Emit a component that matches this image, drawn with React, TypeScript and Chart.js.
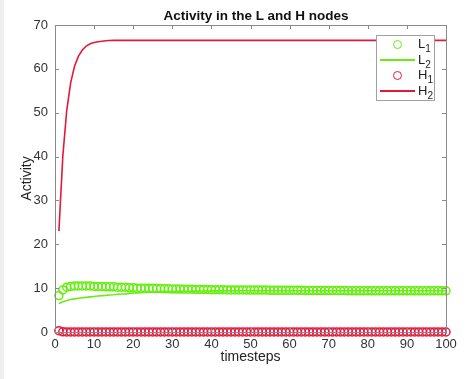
import React, { useEffect, useRef } from "react";
import { Chart, registerables } from "chart.js";

Chart.register(...registerables);

const timesteps = [
  1, 2, 3, 4, 5, 6, 7, 8, 9, 10, 11, 12, 13, 14, 15, 16, 17, 18, 19, 20,
  21, 22, 23, 24, 25, 26, 27, 28, 29, 30, 31, 32, 33, 34, 35, 36, 37, 38, 39, 40,
  41, 42, 43, 44, 45, 46, 47, 48, 49, 50, 51, 52, 53, 54, 55, 56, 57, 58, 59, 60,
  61, 62, 63, 64, 65, 66, 67, 68, 69, 70, 71, 72, 73, 74, 75, 76, 77, 78, 79, 80,
  81, 82, 83, 84, 85, 86, 87, 88, 89, 90, 91, 92, 93, 94, 95, 96, 97, 98, 99, 100,
];

const L1 = [
  8.3, 9.6, 10.2, 10.4, 10.5, 10.5, 10.5, 10.5, 10.5, 10.4,
  10.4, 10.4, 10.3, 10.3, 10.3, 10.2, 10.2, 10.2, 10.1, 10.1,
  10.0, 10.0, 10.0, 9.95, 9.95, 9.9, 9.9, 9.85, 9.85, 9.8,
  9.8, 9.8, 9.75, 9.75, 9.75, 9.7, 9.7, 9.7, 9.7, 9.65,
  9.65, 9.65, 9.65, 9.6, 9.6, 9.6, 9.6, 9.6, 9.55, 9.55,
  9.55, 9.55, 9.55, 9.55, 9.5, 9.5, 9.5, 9.5, 9.5, 9.5,
  9.5, 9.5, 9.5, 9.45, 9.45, 9.45, 9.45, 9.45, 9.45, 9.45,
  9.45, 9.45, 9.45, 9.45, 9.4, 9.4, 9.4, 9.4, 9.4, 9.4,
  9.4, 9.4, 9.4, 9.4, 9.4, 9.4, 9.4, 9.4, 9.4, 9.4,
  9.4, 9.4, 9.4, 9.4, 9.4, 9.4, 9.4, 9.4, 9.4, 9.4,
];

const L2 = [
  6.5, 6.9, 7.2, 7.4, 7.55, 7.7, 7.8, 7.9, 8.0, 8.1,
  8.2, 8.3, 8.35, 8.45, 8.5, 8.6, 8.65, 8.7, 8.8, 8.85,
  8.9, 8.95, 9.0, 9.05, 9.1, 9.1, 9.15, 9.2, 9.2, 9.25,
  9.25, 9.28, 9.3, 9.3, 9.32, 9.33, 9.35, 9.35, 9.36, 9.37,
  9.38, 9.38, 9.38, 9.39, 9.39, 9.39, 9.4, 9.4, 9.4, 9.4,
  9.4, 9.4, 9.4, 9.4, 9.4, 9.4, 9.4, 9.4, 9.4, 9.4,
  9.4, 9.4, 9.4, 9.4, 9.4, 9.4, 9.4, 9.4, 9.4, 9.4,
  9.4, 9.4, 9.4, 9.4, 9.4, 9.4, 9.4, 9.4, 9.4, 9.4,
  9.4, 9.4, 9.4, 9.4, 9.4, 9.4, 9.4, 9.4, 9.4, 9.4,
  9.4, 9.4, 9.4, 9.4, 9.4, 9.4, 9.4, 9.4, 9.4, 9.4,
];

const H1 = [
  0.3, 0.05, 0, 0, 0, 0, 0, 0, 0, 0,
  0, 0, 0, 0, 0, 0, 0, 0, 0, 0,
  0, 0, 0, 0, 0, 0, 0, 0, 0, 0,
  0, 0, 0, 0, 0, 0, 0, 0, 0, 0,
  0, 0, 0, 0, 0, 0, 0, 0, 0, 0,
  0, 0, 0, 0, 0, 0, 0, 0, 0, 0,
  0, 0, 0, 0, 0, 0, 0, 0, 0, 0,
  0, 0, 0, 0, 0, 0, 0, 0, 0, 0,
  0, 0, 0, 0, 0, 0, 0, 0, 0, 0,
  0, 0, 0, 0, 0, 0, 0, 0, 0, 0,
];

const H2 = [
  23.0, 40.1, 50.5, 56.8, 60.6, 62.9, 64.3, 65.2, 65.7, 66.0,
  66.2, 66.3, 66.4, 66.45, 66.5, 66.5, 66.5, 66.5, 66.5, 66.5,
  66.5, 66.5, 66.5, 66.5, 66.5, 66.5, 66.5, 66.5, 66.5, 66.5,
  66.5, 66.5, 66.5, 66.5, 66.5, 66.5, 66.5, 66.5, 66.5, 66.5,
  66.5, 66.5, 66.5, 66.5, 66.5, 66.5, 66.5, 66.5, 66.5, 66.5,
  66.5, 66.5, 66.5, 66.5, 66.5, 66.5, 66.5, 66.5, 66.5, 66.5,
  66.5, 66.5, 66.5, 66.5, 66.5, 66.5, 66.5, 66.5, 66.5, 66.5,
  66.5, 66.5, 66.5, 66.5, 66.5, 66.5, 66.5, 66.5, 66.5, 66.5,
  66.5, 66.5, 66.5, 66.5, 66.5, 66.5, 66.5, 66.5, 66.5, 66.5,
  66.5, 66.5, 66.5, 66.5, 66.5, 66.5, 66.5, 66.5, 66.5, 66.5,
];

const xTicks = [0, 10, 20, 30, 40, 50, 60, 70, 80, 90, 100];
const yTicks = [0, 10, 20, 30, 40, 50, 60, 70];

const GREEN = "#66ee11";
const RED = "#e3193c";
const AXIS = "#8a8a8a";
const FONT = "'Liberation Sans', Arial, sans-serif";

const toPts = (ys: number[]) => ys.map((y, i) => ({ x: timesteps[i], y }));

const boxTicks = {
  id: "boxTicks",
  afterDatasetsDraw(chart: any) {
    const { ctx, chartArea: a, scales } = chart;
    const x = scales.x;
    const y = scales.y;
    const len = 4;
    ctx.save();
    ctx.strokeStyle = AXIS;
    ctx.lineWidth = 1;
    ctx.beginPath();
    ctx.rect(Math.round(a.left) + 0.5, Math.round(a.top) + 0.5, Math.round(a.right - a.left), Math.round(a.bottom - a.top));
    xTicks.forEach((v) => {
      const px = Math.round(x.getPixelForValue(v)) + 0.5;
      ctx.moveTo(px, a.bottom);
      ctx.lineTo(px, a.bottom - len);
      ctx.moveTo(px, a.top);
      ctx.lineTo(px, a.top + len);
    });
    yTicks.forEach((v) => {
      const py = Math.round(y.getPixelForValue(v)) + 0.5;
      ctx.moveTo(a.left, py);
      ctx.lineTo(a.left + len, py);
      ctx.moveTo(a.right, py);
      ctx.lineTo(a.right - len, py);
    });
    ctx.stroke();
    ctx.restore();
  },
};

export default function App() {
  const ref = useRef<HTMLCanvasElement | null>(null);

  useEffect(() => {
    if (!ref.current) return;
    const chart = new Chart(ref.current, {
      type: "scatter",
      data: {
        datasets: [
          {
            label: "H2",
            data: toPts(H2),
            showLine: true,
            borderColor: RED,
            borderWidth: 1.6,
            pointRadius: 0,
            clip: false,
          } as any,
          {
            label: "L2",
            data: toPts(L2),
            showLine: true,
            borderColor: GREEN,
            borderWidth: 1.6,
            pointRadius: 0,
            clip: false,
          },
          {
            label: "L1",
            data: toPts(L1),
            showLine: false,
            borderColor: GREEN,
            backgroundColor: "rgba(255,255,255,0)",
            pointRadius: 4,
            pointBorderWidth: 1.5,
            clip: false,
          },
          {
            label: "H1",
            data: toPts(H1),
            showLine: false,
            borderColor: RED,
            backgroundColor: "rgba(255,255,255,0)",
            pointRadius: 4,
            pointBorderWidth: 1.5,
            clip: false,
          },
        ],
      },
      options: {
        animation: false,
        responsive: false,
        layout: { padding: { top: 25, right: 28, left: 0, bottom: 0 } },
        plugins: {
          legend: { display: false },
          tooltip: { enabled: false },
          title: { display: false },
        },
        scales: {
          x: {
            type: "linear",
            min: 0,
            max: 100,
            afterBuildTicks: (s: any) => {
              s.ticks = xTicks.map((v) => ({ value: v }));
            },
            afterFit: (s: any) => {
              s.height = 47;
            },
            grid: { display: false, drawTicks: false },
            border: { display: false },
            ticks: {
              padding: 5,
              color: "#333",
              font: { family: FONT, size: 13 },
              maxRotation: 0,
            },
            title: {
              display: true,
              text: "timesteps",
              color: "#222",
              font: { family: FONT, size: 14 },
              padding: { top: 0, bottom: 13 },
            },
          },
          y: {
            type: "linear",
            min: 0,
            max: 70,
            afterBuildTicks: (s: any) => {
              s.ticks = yTicks.map((v) => ({ value: v }));
            },
            afterFit: (s: any) => {
              s.width = 55;
            },
            grid: { display: false, drawTicks: false },
            border: { display: false },
            ticks: {
              padding: 7,
              color: "#333",
              font: { family: FONT, size: 13 },
            },
            title: {
              display: true,
              text: "Activity",
              color: "#222",
              font: { family: FONT, size: 14 },
              padding: { top: 19, bottom: 0 },
            },
          },
        },
      },
      plugins: [boxTicks],
    });
    return () => chart.destroy();
  }, []);

  const labelStyle: React.CSSProperties = {
    position: "absolute",
    left: 418,
    fontFamily: FONT,
    fontSize: 13,
    color: "#222",
    lineHeight: "13px",
  };
  const subStyle: React.CSSProperties = { fontSize: 10, verticalAlign: "-4px" };

  return (
    <div style={{ position: "fixed", left: 0, top: 0, width: 474, height: 379, background: "#fff", overflow: "hidden" }}>
      <div style={{ position: "absolute", left: 0, top: 0, width: 4, height: 379, background: "#eeeeee" }} />
      <canvas ref={ref} width={474} height={379} style={{ position: "absolute", left: 0, top: 0 }} />
      <div
        style={{
          position: "absolute",
          left: 0,
          width: 512,
          top: 8,
          textAlign: "center",
          fontFamily: FONT,
          fontWeight: "bold",
          fontSize: 13.5,
          color: "#111",
        }}
      >
        Activity in the L and H nodes
      </div>
      <div
        style={{
          position: "absolute",
          left: 376,
          top: 35,
          width: 57,
          height: 64,
          border: "1px solid #a0a0a0",
          background: "#fff",
        }}
      />
      <div style={{ position: "absolute", left: 393, top: 40, width: 7, height: 7, border: `1.5px solid ${GREEN}`, borderRadius: "50%" }} />
      <div style={{ position: "absolute", left: 380, top: 59, width: 35, height: 2, background: GREEN }} />
      <div style={{ position: "absolute", left: 393, top: 71, width: 7, height: 7, border: `1.5px solid ${RED}`, borderRadius: "50%" }} />
      <div style={{ position: "absolute", left: 380, top: 90, width: 35, height: 2, background: RED }} />
      <div style={{ ...labelStyle, top: 37 }}>L<span style={subStyle}>1</span></div>
      <div style={{ ...labelStyle, top: 53 }}>L<span style={subStyle}>2</span></div>
      <div style={{ ...labelStyle, top: 68 }}>H<span style={subStyle}>1</span></div>
      <div style={{ ...labelStyle, top: 84 }}>H<span style={subStyle}>2</span></div>
    </div>
  );
}
